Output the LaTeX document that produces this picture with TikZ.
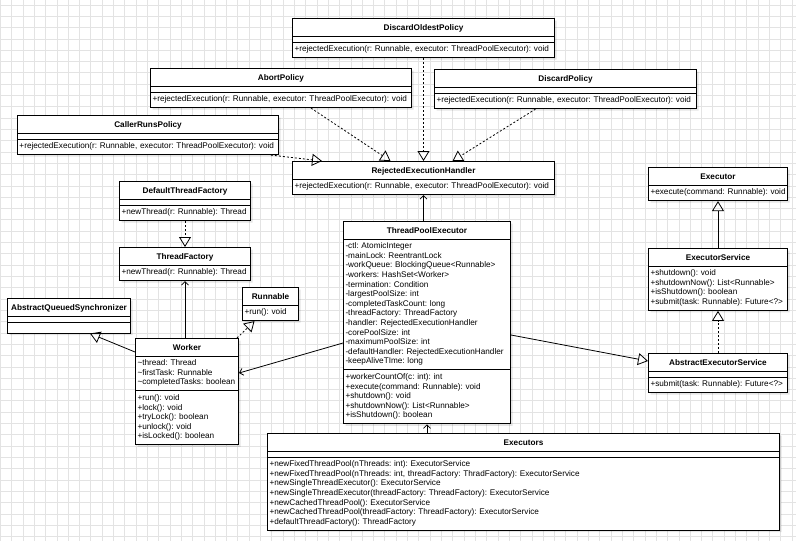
\documentclass[tikz,border=0pt]{standalone}
\usepackage{fontspec}
\setmainfont{Liberation Sans}
\usetikzlibrary{shapes.multipart, arrows.meta, calc, shadows}
\setlength{\parindent}{0pt}
\frenchspacing

\newcommand{\ctitle}[1]{\makebox[\hsize][c]{\rule[-2.4pt]{0pt}{11.5pt}\textbf{#1}}}
\newcommand{\umlrow}[1]{\mbox{\strut#1}}

\begin{document}
\begin{tikzpicture}[x=1pt, y=-1pt]
			\tikzset{umlclass/.style = {rectangle split, rectangle split parts=#1, draw, fill=white, line width=1pt,
				anchor=north west, inner xsep=2pt, inner ysep=2.5pt, align=left, font=\fontsize{8.2}{9.6}\selectfont,
				rectangle split empty part height=0pt, rectangle split empty part depth=0pt,
				drop shadow={shadow xshift=2pt, shadow yshift=-2pt, fill=black, opacity=0.1}}, umlclass/.default=3}
			\tikzset{gridline/.style = {black!11, line width=0.8pt}}
			\tikzset{assoc/.style = {line width=0.8pt, -{Straight Barb[length=3.5pt, width=7pt]}}}
			\tikzset{inherit/.style = {line width=0.8pt, -{Triangle[open, length=10pt, width=12pt]}}}
			\tikzset{realize/.style = {inherit, dash pattern=on 2pt off 2pt}}

			\useasboundingbox (0,0) rectangle (796,541);
			\fill[white] (0,0) rectangle (796,541);
			% grid
			\foreach \i in {0,...,70} \draw[gridline] ({0.35+11.31*\i},0) -- ({0.35+11.31*\i},541);
			\foreach \j in {0,...,47} \draw[gridline] (0,{5+11.31*\j}) -- (796,{5+11.31*\j});

			% classes
			\node[umlclass, text width=258pt] (oldest) at (292,18) {\ctitle{DiscardOldestPolicy}\nodepart{two}\nodepart{three}
				\umlrow{+rejectedExecution(r: Runnable, executor: ThreadPoolExecutor): void}};
			\node[umlclass, text width=257pt] (abort) at (150,68) {\ctitle{AbortPolicy}\nodepart{two}\nodepart{three}
				\umlrow{+rejectedExecution(r: Runnable, executor: ThreadPoolExecutor): void}};
			\node[umlclass, text width=258pt] (discard) at (434,69) {\ctitle{DiscardPolicy}\nodepart{two}\nodepart{three}
				\umlrow{+rejectedExecution(r: Runnable, executor: ThreadPoolExecutor): void}};
			\node[umlclass, text width=257pt] (caller) at (17,115) {\ctitle{CallerRunsPolicy}\nodepart{two}\nodepart{three}
				\umlrow{+rejectedExecution(r: Runnable, executor: ThreadPoolExecutor): void}};
			\node[umlclass=2, text width=258pt] (reh) at (292,161) {\ctitle{RejectedExecutionHandler}\nodepart{two}
				\umlrow{+rejectedExecution(r: Runnable, executor: ThreadPoolExecutor): void}};

			\node[umlclass, text width=127pt] (dtf) at (119,181) {\ctitle{DefaultThreadFactory}\nodepart{two}\nodepart{three}
				\umlrow{+newThread(r: Runnable): Thread}};
			\node[umlclass=2, text width=127pt] (tf) at (119,247) {\ctitle{ThreadFactory}\nodepart{two}
				\umlrow{+newThread(r: Runnable): Thread}};
			\node[umlclass, text width=119pt] (aqs) at (7,298) {\ctitle{AbstractQueuedSynchronizer}\nodepart{two}\nodepart{three}
				\rule{0pt}{5pt}};
			\node[umlclass=2, text width=52pt] (runnable) at (242,287) {\ctitle{Runnable}\nodepart{two}
				\umlrow{+run(): void}};
			\node[umlclass, text width=99pt] (worker) at (135,338) {\ctitle{Worker}\nodepart{two}
				\umlrow{\textasciitilde thread: Thread}\\
				\umlrow{\textasciitilde firstTask: Runnable}\\
				\umlrow{\textasciitilde completedTasks: boolean}
				\nodepart{three}
				\umlrow{+run(): void}\\
				\umlrow{+lock(): void}\\
				\umlrow{+tryLock(): boolean}\\
				\umlrow{+unlock(): void}\\
				\umlrow{+isLocked(): boolean}};

			\node[umlclass, text width=163pt] (tpe) at (343,221) {\ctitle{ThreadPoolExecutor}\nodepart{two}
				\umlrow{-ctl: AtomicInteger}\\
				\umlrow{-mainLock: ReentrantLock}\\
				\umlrow{-workQueue: BlockingQueue<Runnable>}\\
				\umlrow{-workers: HashSet<Worker>}\\
				\umlrow{-termination: Condition}\\
				\umlrow{-largestPoolSize: int}\\
				\umlrow{-completedTaskCount: long}\\
				\umlrow{-threadFactory: ThreadFactory}\\
				\umlrow{-handler: RejectedExecutionHandler}\\
				\umlrow{-corePoolSize: int}\\
				\umlrow{-maximumPoolSize: int}\\
				\umlrow{-defaultHandler: RejectedExecutionHandler}\\
				\umlrow{-keepAliveTIme: long}
				\nodepart{three}
				\umlrow{+workerCountOf(c: int): int}\\
				\umlrow{+execute(command: Runnable): void}\\
				\umlrow{+shutdown(): void}\\
				\umlrow{+shutdownNow(): List<Runnable>}\\
				\umlrow{+isShutdown(): boolean}};
			\node[umlclass, text width=508pt] (executors) at (267,433) {\ctitle{Executors}\nodepart{two}\nodepart{three}
				\umlrow{+newFixedThreadPool(nThreads: int): ExecutorService}\\
				\umlrow{+newFixedThreadPool(nThreads: int, threadFactory: ThradFactory): ExecutorService}\\
				\umlrow{+newSingleThreadExecutor(): ExecutorService}\\
				\umlrow{+newSingleThreadExecutor(threadFactory: ThreadFactory): ExecutorService}\\
				\umlrow{+newCachedThreadPool(): ExecutorService}\\
				\umlrow{+newCachedThreadPool(threadFactory: ThreadFactory): ExecutorService}\\
				\umlrow{+defaultThreadFactory(): ThreadFactory}};

			\node[umlclass=2, text width=135pt] (exec) at (648,167) {\ctitle{Executor}\nodepart{two}
				\umlrow{+execute(command: Runnable): void}};
			\node[umlclass=2, text width=135pt] (es) at (648,248) {\ctitle{ExecutorService}\nodepart{two}
				\umlrow{+shutdown(): void}\\
				\umlrow{+shutdownNow(): List<Runnable>}\\
				\umlrow{+isShutdown(): boolean}\\
				\umlrow{+submit(task: Runnable): Future<?>}};
			\node[umlclass, text width=135pt] (aes) at (648,353) {\ctitle{AbstractExecutorService}\nodepart{two}\nodepart{three}
				\umlrow{+submit(task: Runnable): Future<?>}};

			%edges
			\draw[realize] (oldest.south) -- (reh.north);
			\draw[realize] ([xshift=30pt]abort.south) -- ([xshift=-33pt]reh.north);
			\draw[realize] ([xshift=-30pt]discard.south) -- ([xshift=29pt]reh.north);
			\draw[realize] ([xshift=-8pt]caller.south east) -- ([xshift=30pt]reh.north west);
			\draw[assoc] (tpe.north -| reh.south) -- (reh.south);
			\draw[realize] (dtf.south) -- (tf.north);
			\draw[assoc] (worker.north -| tf.south) -- (tf.south);
			\draw[inherit] ([yshift=-14pt]worker.north west) -- ([xshift=21pt]aqs.south);
			\draw[realize] ([xshift=-2pt]worker.north east) -- ([xshift=-16pt]runnable.south);
			\draw[assoc] ([yshift=-122pt]tpe.north west) -- ([yshift=-35pt]worker.north east);
			\draw[inherit] ([yshift=-114pt]tpe.north east) -- ([yshift=-8pt]aes.north west);
			\draw[inherit] (es.north) -- (exec.south);
			\draw[realize] (aes.north) -- (es.south);
			\draw[assoc] (executors.north -| tpe.south) -- (tpe.south);
\end{tikzpicture}
\end{document}
